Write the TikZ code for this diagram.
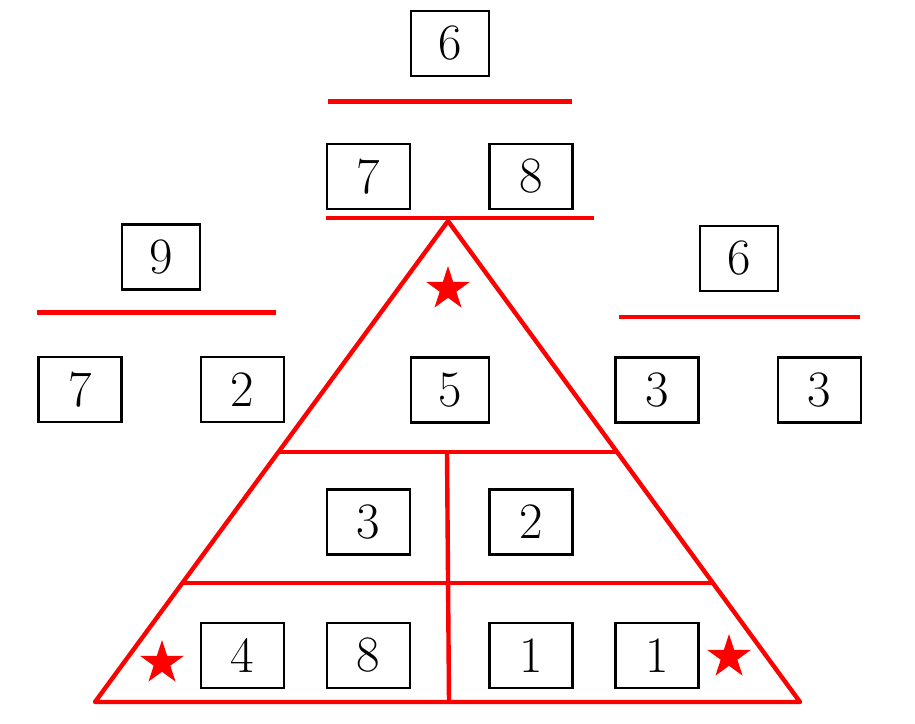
\documentclass[tikz,border=0pt]{standalone}
\usetikzlibrary{shapes.geometric,calc}
\begin{document}
\begin{tikzpicture}[x=1pt,y=-1pt,
  numbox/.style={draw=black,line width=2.4pt,minimum height=65pt,inner sep=0pt,
    font=\fontsize{51}{60}\selectfont},
  narrowbox/.style={numbox,minimum width=78pt},
  widebox/.style={numbox,minimum width=83pt},
  redline/.style={draw=red,line width=4.4pt},
  redstar/.style={star,star points=5,star point ratio=2.618,fill=red,draw=none,
    minimum size=46pt,inner sep=0pt}]
\useasboundingbox (0,0) rectangle (915,723);
% top group
\node[narrowbox] (t6) at (450,43.5) {6};
\coordinate (l1a) at (328,101.5);
\coordinate (l1b) at (572,101.5);
\draw[redline] (l1a) -- (l1b);
\node[widebox] (t7) at (368.5,176.5) {7};
\node[widebox] (t8) at (531,176.5) {8};
\coordinate (l2a) at (326,218);
\coordinate (l2b) at (594,218);
\draw[redline] (l2a) -- (l2b);
% left group
\node[narrowbox] (l9) at (161,257) {9};
\coordinate (l3a) at (37,312.5);
\coordinate (l3b) at (276,312.5);
\draw[redline] (l3a) -- (l3b);
\node[widebox] (l7) at (80,389.5) {7};
\node[widebox] (l2) at (242.5,389.5) {2};
% right group
\node[narrowbox] (r6) at (739,258.5) {6};
\coordinate (l4a) at (619,317);
\coordinate (l4b) at (860,317);
\draw[redline] (l4a) -- (l4b);
\node[widebox] (r3a) at (657,390) {3};
\node[widebox] (r3b) at (819.5,390) {3};
% triangle
\coordinate (A) at (448,221);
\coordinate (B) at (95,702);
\coordinate (C) at (800,702);
\draw[redline,line join=round] (A) -- (B) -- (C) -- cycle;
\coordinate (h1a) at ($(A)!0.48!(B)$);
\coordinate (h1b) at ($(A)!0.48!(C)$);
\draw[redline] (h1a) -- (h1b);
\coordinate (h2a) at ($(A)!0.753!(B)$);
\coordinate (h2b) at ($(A)!0.753!(C)$);
\draw[redline] (h2a) -- (h2b);
\coordinate (va) at (447,452);
\coordinate (vb) at (449,702);
\draw[redline] (va) -- (vb);
\node[redstar] (s1) at (448,289) {};
\node[redstar] (s2) at (162,663) {};
\node[redstar] (s3) at (729,657) {};
\node[narrowbox] (m5) at (450,390) {5};
\node[widebox] (m3) at (368.5,522) {3};
\node[widebox] (m2) at (531,522) {2};
\node[widebox] (b4) at (242.5,655.5) {4};
\node[widebox] (b8) at (368.5,655.5) {8};
\node[widebox] (b1a) at (531,655.5) {1};
\node[widebox] (b1b) at (657,655.5) {1};
\end{tikzpicture}
\end{document}
